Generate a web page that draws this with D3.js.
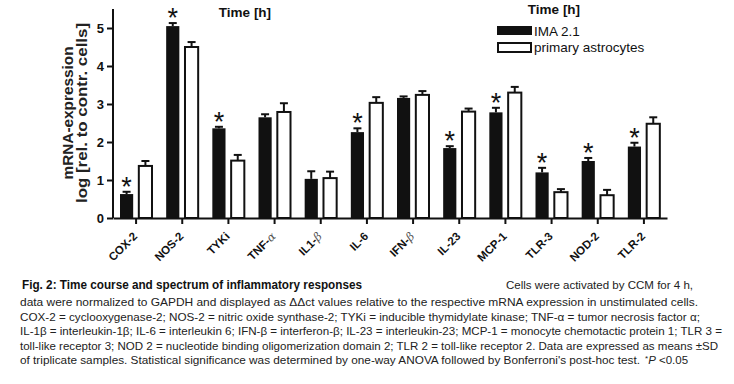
<!DOCTYPE html>
<html>
<head>
    <meta charset="utf-8">
    <title>mRNA expression</title>
    <script src="https://cdn.jsdelivr.net/npm/d3@7"></script>
    <style>
        body { margin: 0; background: #fff; }
        text { font-family: "Liberation Sans", Arial, sans-serif; }
    </style>
</head>
<body>
    <svg width="734" height="384" id="mainSvg"></svg>
    <script>
        // categories (greek suffix kept separately so it can be drawn in a symbol-like face)
        const categories = ["COX-2", "NOS-2", "TYKi", "TNF-α", "IL1-β", "IL-6", "IFN-β", "IL-23", "MCP-1", "TLR-3", "NOD-2", "TLR-2"];
        const seriesNames = ["IMA 2.1", "primary astrocytes"];
        const imaValues = [0.63, 5.05, 2.36, 2.65, 1.03, 2.26, 3.16, 1.84, 2.78, 1.2, 1.5, 1.88];
        const imaErrors = [0.06, 0.08, 0.04, 0.08, 0.2, 0.1, 0.04, 0.05, 0.12, 0.12, 0.08, 0.1];
        const astroValues = [1.37, 4.5, 1.51, 2.79, 1.05, 3.03, 3.24, 2.8, 3.3, 0.68, 0.6, 2.48];
        const astroErrors = [0.13, 0.13, 0.15, 0.23, 0.17, 0.15, 0.1, 0.08, 0.15, 0.08, 0.14, 0.17];
        const significant = [true, true, true, false, false, true, false, true, true, true, true, true];
        const yTicks = [0, 1, 2, 3, 4, 5];

        const captionTitle = "Fig. 2: Time course and spectrum of inflammatory responses";
        const captionRight = "Cells were activated by CCM for 4 h,";
        const captionLines = [
            "data were normalized to GAPDH and displayed as ΔΔct values relative to the respective mRNA expression in unstimulated cells.",
            "COX-2 = cyclooxygenase-2; NOS-2 = nitric oxide synthase-2; TYKi = inducible thymidylate kinase; TNF-α = tumor necrosis factor α;",
            "IL-1β = interleukin-1β; IL-6 = interleukin 6; IFN-β = interferon-β; IL-23 = interleukin-23; MCP-1 = monocyte chemotactic protein 1; TLR 3 =",
            "toll-like receptor 3; NOD 2 = nucleotide binding oligomerization domain 2; TLR 2 = toll-like receptor 2. Data are expressed as means ±SD",
            "of triplicate samples. Statistical significance was determined by one-way ANOVA followed by Bonferroni's post-hoc test."
        ];
        const captionEnds = [698, 700, 722, 718, 640];

        const data = categories.map((c, i) => ({
            cat: c,
            sig: significant[i],
            bars: [
                { key: seriesNames[0], value: imaValues[i], err: imaErrors[i] },
                { key: seriesNames[1], value: astroValues[i], err: astroErrors[i] }
            ]
        }));

        const svg = d3.select("#mainSvg");

        const x = d3.scaleBand().domain(categories).range([113, 667]);
        const x1 = d3.scaleBand().domain(seriesNames).range([7, 39]).paddingInner(0.3);
        const y = d3.scaleLinear().domain([0, 5.5]).range([218, 9]);

        const groups = svg.append("g").selectAll("g")
            .data(data).join("g")
            .attr("transform", d => `translate(${x(d.cat)},0)`);

        groups.selectAll("rect")
            .data(d => d.bars).join("rect")
            .attr("x", d => x1(d.key))
            .attr("y", d => y(d.value))
            .attr("width", x1.bandwidth())
            .attr("height", d => y(0) - y(d.value))
            .attr("fill", (d, i) => i === 0 ? "#111" : "#fff")
            .attr("stroke", "#111")
            .attr("stroke-width", (d, i) => i === 0 ? 0 : 2);

        // error bars (upper only)
        const eb = groups.selectAll("g.err")
            .data(d => d.bars).join("g").attr("class", "err");
        eb.append("line")
            .attr("x1", d => x1(d.key) + x1.bandwidth() / 2)
            .attr("x2", d => x1(d.key) + x1.bandwidth() / 2)
            .attr("y1", d => y(d.value))
            .attr("y2", d => y(d.value + d.err))
            .attr("stroke", "#111").attr("stroke-width", 2);
        eb.append("line")
            .attr("x1", d => x1(d.key) + x1.bandwidth() / 2 - 4)
            .attr("x2", d => x1(d.key) + x1.bandwidth() / 2 + 4)
            .attr("y1", d => y(d.value + d.err))
            .attr("y2", d => y(d.value + d.err))
            .attr("stroke", "#111").attr("stroke-width", 2);

        // significance stars
        groups.filter(d => d.sig).append("text")
            .attr("x", d => x1(seriesNames[0]) + x1.bandwidth() / 2)
            .attr("y", d => y(d.bars[0].value + d.bars[0].err) + 4)
            .attr("text-anchor", "middle")
            .attr("font-size", 27)
            .attr("fill", "#111")
            .text("*");

        // y axis
        const yAxis = svg.append("g")
            .attr("transform", "translate(113,0)")
            .call(d3.axisLeft(y).tickValues(yTicks).tickSize(6).tickPadding(3).tickFormat(d3.format("d")));
        yAxis.select(".domain").attr("d", `M0,${y(5.5)}V${y(0)}`).attr("stroke", "#111").attr("stroke-width", 2);
        yAxis.selectAll(".tick line").attr("stroke", "#111").attr("stroke-width", 2);
        yAxis.selectAll(".tick text")
            .attr("font-size", 13).attr("font-weight", "bold").attr("fill", "#111")
            .attr("font-family", "Liberation Sans, Arial, sans-serif");

        // x axis
        const xAxis = svg.append("g")
            .attr("transform", `translate(0,${y(0)})`)
            .call(d3.axisBottom(x).tickSize(6).tickSizeOuter(0).tickFormat(""));
        xAxis.select(".domain").attr("stroke", "#111").attr("stroke-width", 2);
        xAxis.selectAll(".tick line").attr("stroke", "#111").attr("stroke-width", 2);

        const xl = svg.append("g").selectAll("text")
            .data(categories).join("text")
            .attr("transform", d => `translate(${x(d) + x.bandwidth() / 2 + 2},${y(0) + 19}) rotate(-45)`)
            .attr("text-anchor", "end")
            .attr("font-size", 11.5)
            .attr("font-weight", "bold")
            .attr("fill", "#111");
        xl.each(function (d) {
            const t = d3.select(this);
            const m = d.match(/^(.*-)([αβ])$/);
            if (m) {
                t.append("tspan").text(m[1]);
                t.append("tspan").text(m[2])
                    .attr("font-family", "DejaVu Serif, serif")
                    .attr("font-style", "italic")
                    .attr("font-weight", "normal")
                    .attr("fill", "#555");
            } else {
                t.text(d);
            }
        });

        // y labels
        svg.append("text")
            .attr("transform", "translate(73,113) rotate(-90)")
            .attr("text-anchor", "middle")
            .attr("font-size", 14.5).attr("font-weight", "bold").attr("fill", "#222")
            .attr("textLength", 133).attr("lengthAdjust", "spacingAndGlyphs")
            .text("mRNA-expression");
        svg.append("text")
            .attr("transform", "translate(87,113) rotate(-90)")
            .attr("text-anchor", "middle")
            .attr("font-size", 14.5).attr("font-weight", "bold").attr("fill", "#222")
            .attr("textLength", 180).attr("lengthAdjust", "spacingAndGlyphs")
            .text("log [rel. to contr. cells]");

        // titles
        svg.append("text").attr("x", 245).attr("y", 17).attr("text-anchor", "middle")
            .attr("font-size", 13.5).attr("font-weight", "bold").attr("fill", "#111").text("Time [h]");
        svg.append("text").attr("x", 554).attr("y", 14).attr("text-anchor", "middle")
            .attr("font-size", 13.5).attr("font-weight", "bold").attr("fill", "#111").text("Time [h]");

        // legend
        const legend = svg.append("g").selectAll("g")
            .data(seriesNames).join("g")
            .attr("transform", (d, i) => `translate(497,${26 + i * 16})`);
        legend.append("rect")
            .attr("width", (d, i) => i === 0 ? 35 : 33)
            .attr("height", 9)
            .attr("x", (d, i) => i === 0 ? 0 : 1)
            .attr("y", (d, i) => i === 0 ? 0 : 1)
            .attr("fill", (d, i) => i === 0 ? "#111" : "#fff")
            .attr("stroke", "#111")
            .attr("stroke-width", (d, i) => i === 0 ? 0 : 2);
        legend.append("text")
            .attr("x", 37).attr("y", 9.5)
            .attr("font-size", 13.5).attr("fill", "#111")
            .text(d => d);

        // caption
        svg.append("text").attr("x", 22).attr("y", 289)
            .attr("font-size", 12).attr("font-weight", "bold").attr("fill", "#111")
            .attr("textLength", 340).attr("lengthAdjust", "spacingAndGlyphs")
            .text(captionTitle);
        svg.append("text").attr("x", 506).attr("y", 289)
            .attr("font-size", 11.5).attr("fill", "#222")
            .attr("textLength", 187).attr("lengthAdjust", "spacingAndGlyphs")
            .text(captionRight);
        svg.append("g").selectAll("text")
            .data(captionLines).join("text")
            .attr("x", 20)
            .attr("y", (d, i) => 306 + i * 14.5)
            .attr("font-size", 11.5).attr("fill", "#222")
            .attr("textLength", (d, i) => captionEnds[i] - 20)
            .attr("lengthAdjust", "spacingAndGlyphs")
            .text(d => d);
        const pv = svg.append("text").attr("x", 645).attr("y", 306 + 4 * 14.5)
            .attr("font-size", 11.5).attr("fill", "#222");
        pv.append("tspan").attr("font-size", 8).attr("dy", -3).text("*");
        pv.append("tspan").attr("font-style", "italic").attr("dy", 3).text("P");
        pv.append("tspan").text(" <0.05");
    </script>
</body>
</html>
